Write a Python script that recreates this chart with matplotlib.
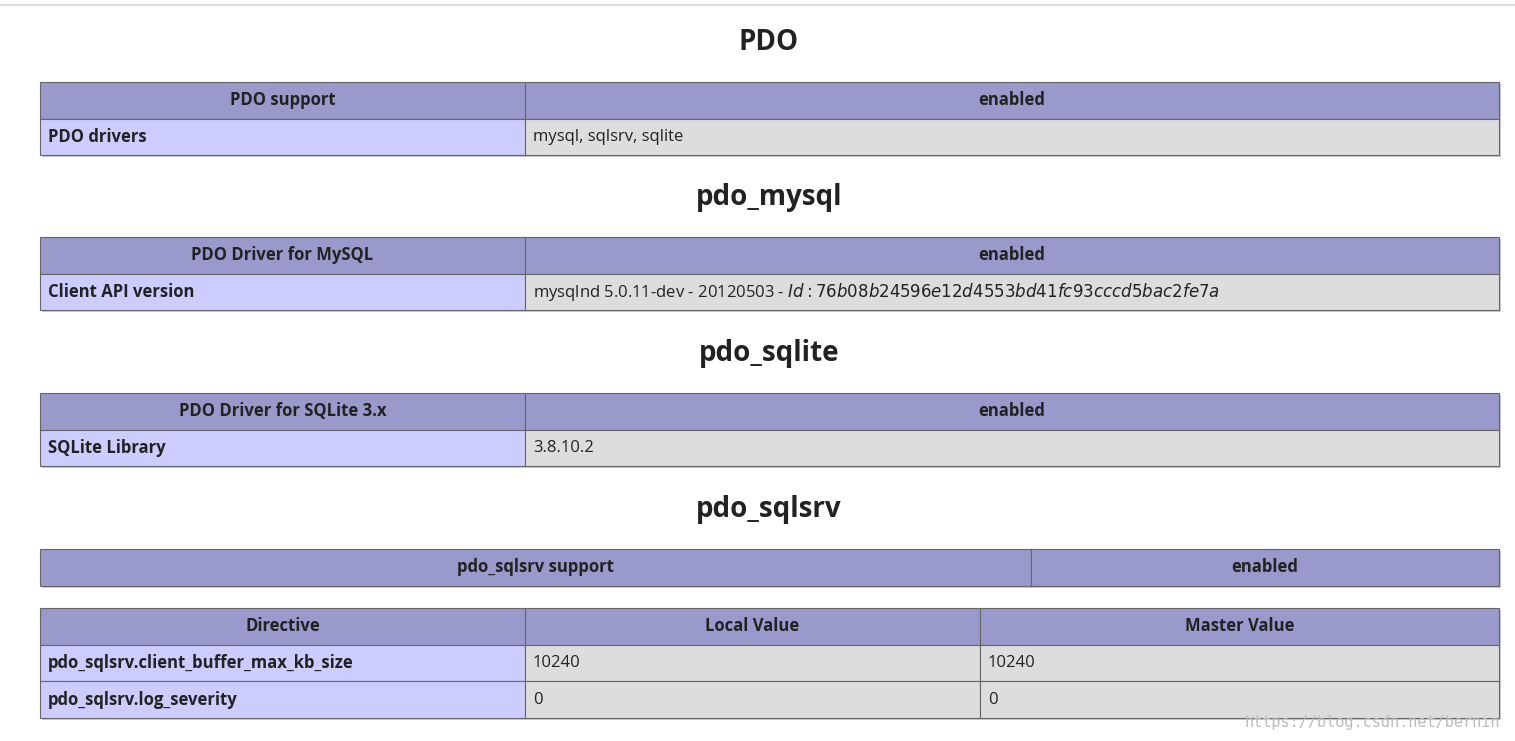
import matplotlib
matplotlib.use('Agg')
import matplotlib.pyplot as plt
from matplotlib.patches import Rectangle

plt.rcParams['font.family'] = ['Open Sans', 'DejaVu Sans']

# content
titles = ['PDO', 'pdo_mysql', 'pdo_sqlite', 'pdo_sqlsrv']
headers = [['PDO support', 'enabled'],
           ['PDO Driver for MySQL', 'enabled'],
           ['PDO Driver for SQLite 3.x', 'enabled'],
           ['pdo_sqlsrv support', 'enabled']]
rows = [[['PDO drivers', 'mysql, sqlsrv, sqlite']],
        [['Client API version', 'mysqlnd 5.0.11-dev - 20120503 - $Id: 76b08b24596e12d4553bd41fc93cccd5bac2fe7a $']],
        [['SQLite Library', '3.8.10.2']],
        []]
dir_header = ['Directive', 'Local Value', 'Master Value']
dir_rows = [['pdo_sqlsrv.client_buffer_max_kb_size', '10240', '10240'],
            ['pdo_sqlsrv.log_severity', '0', '0']]

HEAD = '#9999cc'
KEY = '#ccccff'
VAL = '#dddddd'
EDGE = '#666666'
L, R, RH = 40, 1499, 36.7

fig = plt.figure(figsize=(15.15, 7.41), dpi=100)
ax = fig.add_axes([0, 0, 1, 1])
ax.set_xlim(0, 1515)
ax.set_ylim(741, 0)
ax.axis('off')
ax.plot([0, 1515], [5, 5], color='#dddddd', lw=1.5)


def cell(x0, x1, y, color, text, bold, center):
    ax.add_patch(Rectangle((x0 + 2, y + 2), x1 - x0, RH, color='#cccccc', zorder=1, lw=0))
    ax.add_patch(Rectangle((x0, y), x1 - x0, RH, facecolor=color, edgecolor=EDGE, lw=0.8, zorder=2))
    tx = (x0 + x1) / 2 if center else x0 + 8
    ax.text(tx, y + RH / 2, text, ha='center' if center else 'left', va='center',
            fontsize=12, fontweight='bold' if bold else 'normal', color='#222222', zorder=3)


title_y = [42, 198, 353, 509]
table_y = [82, 237, 393, 549]
for i, t in enumerate(titles):
    ax.text(769, title_y[i], t, ha='center', va='center', fontsize=20, fontweight='bold', color='#222222')
    split = 1031 if i == 3 else 525
    y = table_y[i]
    cell(L, split, y, HEAD, headers[i][0], True, True)
    cell(split, R, y, HEAD, headers[i][1], True, True)
    for k, v in rows[i]:
        y += RH
        cell(L, split, y, KEY, k, True, False)
        cell(split, R, y, VAL, v, False, False)

cols = [L, 525, 980, R]
y = 608
for j, h in enumerate(dir_header):
    cell(cols[j], cols[j + 1], y, HEAD, h, True, True)
for r in dir_rows:
    y += RH
    cell(cols[0], cols[1], y, KEY, r[0], True, False)
    cell(cols[1], cols[2], y, VAL, r[1], False, False)
    cell(cols[2], cols[3], y, VAL, r[2], False, False)

ax.text(1500, 722, 'https://blog.csdn.net/bernin', ha='right', va='center',
        fontsize=11, color='#bbbbbb', family='DejaVu Sans Mono', zorder=4)

fig.savefig('out.png', dpi=100)
